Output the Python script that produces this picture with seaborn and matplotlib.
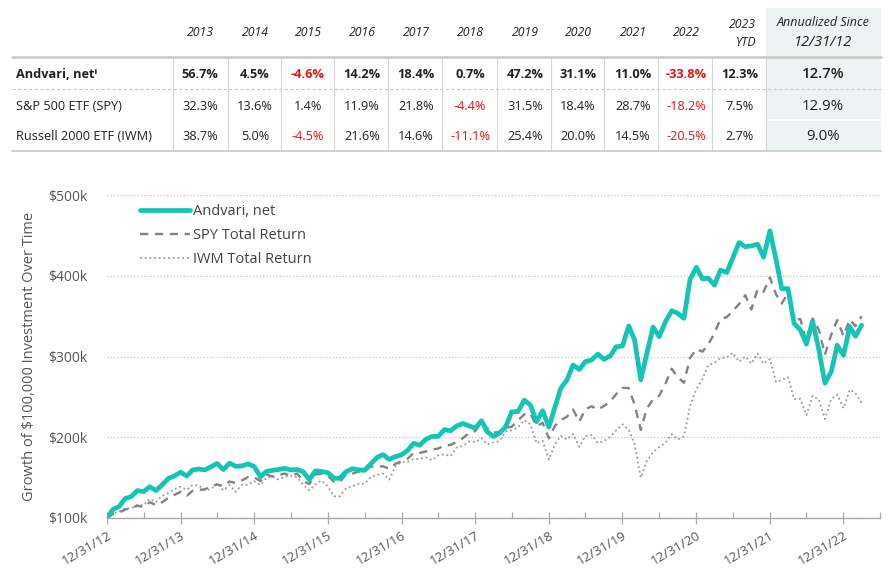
import pandas as pd
import numpy as np
import matplotlib.pyplot as plt
import matplotlib.dates as mdates
from matplotlib.ticker import FuncFormatter, MultipleLocator
import seaborn as sns

# -----------------------------
# Table data (calendar-year returns, %)
# -----------------------------
col_labels = ['2013', '2014', '2015', '2016', '2017', '2018', '2019',
              '2020', '2021', '2022', '2023\nYTD']
row_labels = ['Andvari, net\u2071', 'S&P 500 ETF (SPY)', 'Russell 2000 ETF (IWM)']
andvari_ret = [56.7, 4.5, -4.6, 14.2, 18.4, 0.7, 47.2, 31.1, 11.0, -33.8, 12.3]
spy_ret = [32.3, 13.6, 1.4, 11.9, 21.8, -4.4, 31.5, 18.4, 28.7, -18.2, 7.5]
iwm_ret = [38.7, 5.0, -4.5, 21.6, 14.6, -11.1, 25.4, 20.0, 14.5, -20.5, 2.7]
annualized = [12.7, 12.9, 9.0]

# -----------------------------
# Growth of $100k, month-end values ($k), 12/31/12 - 3/31/23
# -----------------------------
andvari = [100,
           111, 114, 124, 126.5, 134, 132.6, 138.8, 134, 141, 149, 152, 156.7,
           152, 159.4, 160.7, 159.5, 163.5, 167.5, 160, 168, 164, 164.5, 167, 163.8,
           151, 157.5, 159, 160, 161.5, 159.5, 160, 157.4, 147.5, 158.5, 157.5, 156.2,
           149.2, 149.2, 157.4, 161, 159.8, 159, 167, 175, 178.5, 172.5, 176, 178.4,
           184, 192.5, 190, 197.5, 201, 201, 209.5, 208, 214, 217, 214, 211.2,
           220.5, 207, 201, 205, 213, 231.6, 231.6, 246, 240, 219.3, 232.9, 212.7,
           238, 260.6, 271, 289.5, 284, 293.6, 295.7, 303, 296.5, 300.6, 312, 313.1,
           337.8, 320.4, 271, 304, 336.5, 324.6, 343, 356.7, 353.5, 347.3, 395.6, 410.5,
           396, 397, 388.5, 407, 404, 422, 441, 436, 437, 439, 423, 455.6,
           419.5, 384, 384, 341, 333, 315.5, 344, 308, 267, 281, 314, 301.6,
           337, 325, 338.7]
spy = [100,
       105.1, 106.5, 110.5, 112.6, 115.2, 113.7, 119.5, 115.9, 119.5, 125.0, 128.7, 132.3,
       127.7, 133.6, 134.7, 135.6, 138.7, 141.6, 139.6, 145.2, 143.2, 146.6, 150.6, 150.3,
       145.8, 154.0, 151.5, 153.0, 155.0, 151.9, 155.1, 145.6, 142.0, 154.1, 154.7, 152.4,
       144.8, 144.6, 154.3, 154.9, 157.5, 158.0, 163.7, 163.9, 163.9, 161.1, 167.1, 170.5,
       173.6, 180.4, 180.6, 182.4, 184.9, 186.0, 189.9, 190.5, 194.3, 199.0, 205.1, 207.7,
       219.3, 211.4, 205.7, 206.7, 211.7, 213.0, 220.9, 228.2, 229.6, 213.7, 217.8, 198.6,
       214.5, 221.4, 225.4, 234.4, 219.4, 234.8, 238.3, 234.3, 238.7, 244.0, 253.5, 261.1,
       261.0, 240.4, 209.1, 235.7, 247.0, 251.4, 266.3, 284.9, 274.4, 267.5, 298.0, 309.2,
       306.1, 314.7, 328.9, 346.3, 348.7, 356.4, 364.9, 375.9, 358.2, 383.3, 380.2, 397.9,
       376.8, 365.5, 379.0, 345.7, 346.4, 318.0, 347.2, 333.0, 302.4, 326.9, 345.2, 325.5,
       346.0, 337.4, 349.9]
iwm = [100,
       106.2, 107.4, 112.3, 111.8, 116.3, 115.7, 123.8, 119.9, 127.5, 130.7, 135.8, 138.7,
       134.8, 141.1, 140.1, 134.7, 135.8, 143.0, 134.3, 140.9, 132.4, 141.2, 141.2, 145.6,
       140.9, 149.3, 151.8, 147.8, 151.2, 152.4, 150.7, 141.2, 134.3, 141.8, 146.5, 139.1,
       126.9, 126.9, 137.0, 139.2, 142.4, 142.3, 150.7, 153.4, 155.1, 147.6, 164.0, 169.1,
       169.8, 173.0, 173.2, 175.1, 171.6, 177.6, 178.8, 176.5, 187.4, 189.1, 194.6, 193.8,
       198.8, 191.1, 193.6, 195.3, 207.2, 208.7, 212.2, 221.3, 216.0, 192.5, 195.6, 172.3,
       191.6, 201.6, 197.3, 204.0, 188.1, 201.5, 202.7, 192.8, 195.3, 200.4, 208.6, 216.1,
       209.2, 191.6, 150.0, 170.6, 181.5, 187.8, 193.1, 203.9, 197.2, 201.3, 238.4, 259.3,
       272.3, 289.2, 292.1, 298.2, 298.8, 304.5, 293.5, 300.0, 291.3, 303.8, 291.0, 296.9,
       268.4, 271.1, 274.3, 247.2, 247.7, 227.4, 251.3, 246.3, 222.6, 247.1, 252.8, 236.0,
       258.9, 254.5, 242.4]

dates = pd.date_range('2012-12-31', periods=len(andvari), freq='ME')
df = pd.DataFrame({'date': dates, 'Andvari, net': andvari,
                   'SPY Total Return': spy, 'IWM Total Return': iwm})
df = df.melt(id_vars='date', var_name='series', value_name='value')

sns.set_theme(style='white')
plt.rcParams['font.family'] = ['Open Sans', 'DejaVu Sans']

W, H = 891, 581
fig = plt.figure(figsize=(W / 100, H / 100), dpi=100)

# -----------------------------
# Table drawn in pixel coordinates
# -----------------------------
tab = fig.add_axes([0, 0, 1, 1])
tab.set_xlim(0, W)
tab.set_ylim(H, 0)
tab.axis('off')

txt = '#222222'
red = '#e8141a'
grid_c = '#d4d4d4'
col_x = [200, 255, 308, 362, 416, 470, 525, 578, 633, 686, 740]
vlines = [173, 228, 281, 334, 388, 442, 497, 551, 604, 658, 712, 766]
row_y = [74, 106, 137]

tab.add_patch(plt.Rectangle((766, 8), 115, 143, color='#eef2f2', lw=0, zorder=0))

for lab, x in zip(col_labels, col_x):
    if '\n' in lab:
        tab.text(x + 2, 25, '2023', ha='center', va='center', style='italic', fontsize=8.8, color=txt)
        tab.text(x + 6, 42, 'YTD', ha='center', va='center', style='italic', fontsize=8.8, color=txt)
    else:
        tab.text(x, 33, lab, ha='center', va='center', style='italic', fontsize=8.8, color=txt)
tab.text(823, 23, 'Annualized Since', ha='center', va='center', style='italic', fontsize=9, color=txt)
tab.text(823, 43, '12/31/12', ha='center', va='center', style='italic', fontsize=10.5, color=txt)

tab.plot([12, 881], [57, 57], color='#c8c8c8', lw=1.8)
tab.plot([12, 881], [151, 151], color='#c8c8c8', lw=1.2)
tab.plot([12, 881], [89, 89], color='#c8c8c8', lw=0.8, ls=(0, (3, 2)))
tab.plot([766, 881], [120, 120], color='white', lw=1.5)
for x in vlines:
    tab.plot([x, x], [58, 150], color=grid_c, lw=0.8)

for i, (lab, vals) in enumerate(zip(row_labels, [andvari_ret, spy_ret, iwm_ret])):
    weight = 'bold' if i == 0 else 'normal'
    tab.text(16, row_y[i], lab, ha='left', va='center', fontsize=9.2,
             fontweight=weight, color=txt)
    for v, x in zip(vals, col_x):
        tab.text(x, row_y[i], f'{v:.1f}%', ha='center', va='center', fontsize=9.2,
                 fontweight=weight, color=red if v < 0 else txt)
    tab.text(823, row_y[i], f'{annualized[i]:.1f}%', ha='center', va='center',
             fontsize=10.8, fontweight='semibold' if i == 0 else 'normal', color=txt)

# -----------------------------
# Growth chart
# -----------------------------
ax = fig.add_axes([107 / W, 1 - 518 / H, (880 - 107) / W, (518 - 195) / H])
teal = '#14c4b4'
sns.lineplot(data=df[df.series == 'IWM Total Return'], x='date', y='value', ax=ax,
             color='#9a9a9a', lw=1.3, ls=(0, (1, 1.6)), label='IWM Total Return', zorder=2)
sns.lineplot(data=df[df.series == 'SPY Total Return'], x='date', y='value', ax=ax,
             color='#838383', lw=1.7, ls=(0, (3.5, 2.8)), label='SPY Total Return', zorder=3)
sns.lineplot(data=df[df.series == 'Andvari, net'], x='date', y='value', ax=ax,
             color=teal, lw=3.4, label='Andvari, net', zorder=4)

ax.set_xlim(pd.Timestamp('2012-12-31'), pd.Timestamp('2023-06-30'))
ax.set_ylim(100, 500)
ax.yaxis.set_major_locator(MultipleLocator(100))
ax.yaxis.set_major_formatter(FuncFormatter(lambda v, p: f'${v:.0f}k'))
ax.yaxis.grid(True, ls=':', color='#c4c4c4', lw=0.9)
ax.xaxis.grid(False)

ax.set_xticks(pd.date_range('2012-12-31', '2022-12-31', freq='YE'))
ax.set_xticks(pd.date_range('2013-06-30', '2023-06-30', freq='6ME')[::2], minor=True)
ax.xaxis.set_major_formatter(mdates.DateFormatter('%m/%d/%y'))
ax.tick_params(axis='x', which='major', direction='inout', length=8, width=0.9,
               color='#aaaaaa', labelsize=9.5, labelcolor='#555555', pad=4, bottom=True)
ax.tick_params(axis='x', which='minor', direction='in', length=4, width=0.9,
               color='#aaaaaa', bottom=True)
ax.tick_params(axis='y', length=0, labelsize=10, labelcolor='#555555', pad=14)
for t in ax.get_xticklabels():
    t.set_rotation(30)
    t.set_ha('right')
    t.set_rotation_mode('anchor')

for s in ['left', 'top', 'right']:
    ax.spines[s].set_visible(False)
ax.spines['bottom'].set_color('#aaaaaa')
ax.spines['bottom'].set_linewidth(1.0)

ax.set_xlabel('')
ax.set_ylabel('Growth of $100,000 Investment Over Time', fontsize=10.5, color='#555555')
ax.yaxis.set_label_coords(-0.09, 0.5)

handles, labels = ax.get_legend_handles_labels()
order = [labels.index(n) for n in ['Andvari, net', 'SPY Total Return', 'IWM Total Return']]
ax.legend([handles[i] for i in order], [labels[i] for i in order], loc='upper left',
          bbox_to_anchor=(0.026, 1.012), frameon=False, fontsize=10.5, handlelength=3.4,
          handletextpad=0.2, labelspacing=0.6, labelcolor='#444444')

fig.savefig('out.png', dpi=100)
